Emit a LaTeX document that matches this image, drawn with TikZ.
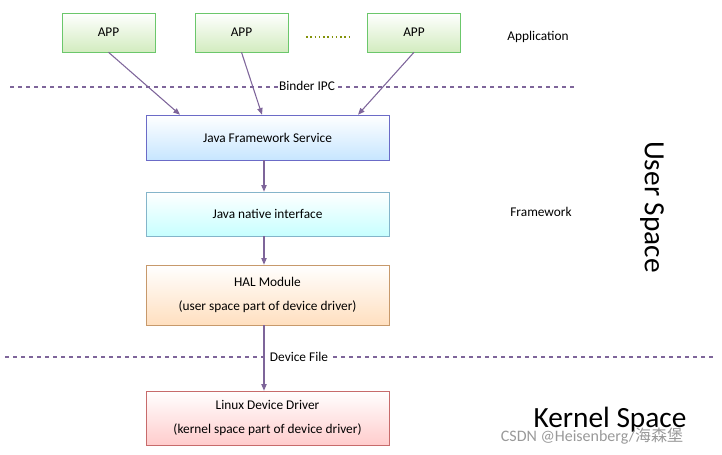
\documentclass[tikz,border=0pt]{standalone}
\usepackage{fontspec}
\setmainfont{Carlito}
\newfontfamily\cjk{Noto Sans CJK SC}
\usetikzlibrary{arrows.meta}
\definecolor{arr}{HTML}{7E659A}
\tikzset{
  box/.style={draw=#1!45!gray!80, minimum height=39*0.75pt, font=\fontsize{10}{12}\selectfont, align=center, inner sep=0pt},
  link/.style={draw=arr, thick, -{Triangle[length=5pt,width=4pt]}},
  sep/.style={draw=arr, dashed, thick},
  lbl/.style={font=\fontsize{10}{12}\selectfont}
}
\begin{document}
\begin{tikzpicture}[x=0.75pt,y=-0.75pt]
\useasboundingbox (0,0) rectangle (722,454);
% apps
\foreach \n/\x in {a1/108.5,a2/241.5,a3/414}
  \node[box=green, top color=white, bottom color=green!40!olive!25, minimum width=93*0.75pt] (\n) at (\x,32.5) {APP};
\draw[olive!80!green, dotted, very thick] (306,37) -- (350,37);
\node[lbl] (app) at (538,37) {Application};
% separator
\draw[sep] (10,87) -- (575,87);
\node[lbl, fill=white, inner sep=1pt] (ipc) at (307,86) {Binder IPC};
% framework
\node[box=blue, top color=white, bottom color=blue!45!cyan!22, minimum width=243*0.75pt, minimum height=45*0.75pt] (jfs) at (267.5,137.5) {Java Framework Service};
\node[box=cyan, top color=white, bottom color=cyan!22, minimum width=243*0.75pt, minimum height=44*0.75pt] (jni) at (267.5,214) {Java native interface};
\node[box=orange, top color=white, bottom color=orange!25, minimum width=243*0.75pt, minimum height=60*0.75pt] (hal) at (267.5,295) {HAL Module\\[6pt](user space part of device driver)};
\node[lbl] (fw) at (541,212) {Framework};
% kernel
\draw[sep] (5,357) -- (715,357);
\node[lbl, fill=white, inner sep=1pt] (df) at (299,357) {Device File};
\node[box=red, top color=white, bottom color=red!20, minimum width=243*0.75pt, minimum height=54*0.75pt] (ldd) at (267.5,418) {Linux Device Driver\\[6pt](kernel space part of device driver)};
% connectors
\draw[link] (a1.south) -- (jfs.north west -| 180,0);
\draw[link] (a2.south) -- (jfs.north west -| 262,0);
\draw[link] (a3.south) -- (jfs.north west -| 358,0);
\draw[link] (jfs.south -| 264,0) -- (jni.north -| 264,0);
\draw[link] (jni.south -| 264,0) -- (hal.north -| 264,0);
\draw[link] (hal.south -| 264,0) -- (ldd.north -| 264,0);
% space labels
\node[rotate=-90, font=\fontsize{22}{26}\selectfont] (us) at (652,207) {User Space};
\node[font=\fontsize{22}{26}\selectfont] (ks) at (610,420) {Kernel Space};
\node[font=\fontsize{12}{14}\selectfont, text=gray!80] (wm) at (592,436) {CSDN @Heisenberg/{\cjk 海森堡}};
\end{tikzpicture}
\end{document}
